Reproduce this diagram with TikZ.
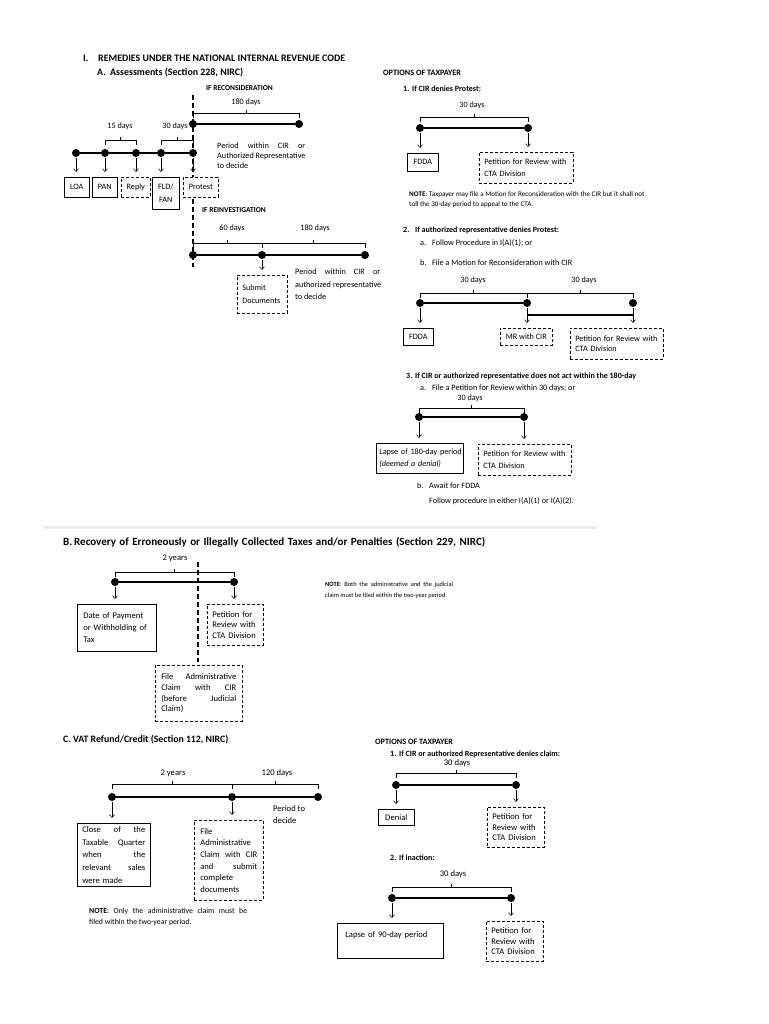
\documentclass[tikz,border=0pt]{standalone}
\usepackage{fontspec}
\setmainfont{Carlito}
\usetikzlibrary{arrows.meta}
\newcommand\ftA{\fontsize{8.2}{10.5}\selectfont}
\newcommand\ftB{\fontsize{8.6}{12.2}\selectfont}
\newcommand\ftN{\fontsize{7.1}{10.5}\selectfont}
\newcommand\ftNB{\fontsize{6.4}{10.5}\selectfont}
\newcommand\ftNC{\fontsize{7.8}{10.5}\selectfont}
\newcommand\ftH{\fontsize{9.9}{12}\selectfont\bfseries}
\newcommand\ftHB{\fontsize{11}{12}\selectfont\bfseries}
\newcommand\ftHC{\fontsize{9.8}{12}\selectfont\bfseries}
\newcommand\ftS{\fontsize{7.5}{9}\selectfont\bfseries}
\newcommand\ftT{\fontsize{8.2}{9}\selectfont\bfseries}
\newcommand\ftO{\fontsize{8}{9}\selectfont\bfseries}
\newcommand\jl[2]{\makebox[#1][s]{\spaceskip=0.25em plus 1fil\relax #2}}
\newcommand\tlbrace[3]{\draw[brk] (#1,#3+5) -- (#1,#3) -- (#2,#3) -- (#2,#3+5); \draw[brk] ({(#1+#2)/2},#3) -- ({(#1+#2)/2},#3-3);}
\tikzset{
 dot/.style={circle, fill=black, inner sep=0pt, minimum size=8pt},
 tl/.style={line width=1.8pt},
 brk/.style={line width=0.6pt},
 arr/.style={-{Straight Barb[length=3pt,width=5pt]}, line width=0.5pt, shorten <=1pt, shorten >=5pt},
 sbox/.style={draw, line width=0.6pt, fill=white, inner xsep=5pt, inner ysep=2pt, align=left, anchor=north west},
 dbox/.style={sbox, dash pattern=on 3pt off 2pt},
 vd/.style={line width=2pt, dash pattern=on 5pt off 3pt},
 lab/.style={inner sep=0pt, anchor=center},
 txt/.style={inner sep=0pt, anchor=west, align=left},
}
\begin{document}
\begin{tikzpicture}[x=1pt,y=-1pt]
\useasboundingbox (0,0) rectangle (768,1024);
\fill[white] (0,0) rectangle (768,1024);

% separator
\draw[line width=3pt, black!7] (44,527) -- (597,527);

% ===== Section A =====
\node[txt, font=\ftH] (hI) at (83,58) {\makebox[15pt][l]{I.}REMEDIES UNDER THE NATIONAL INTERNAL REVENUE CODE};
\node[txt, font=\ftH] (hA) at (97,73) {\makebox[13pt][l]{A.}Assessments (Section 228, NIRC)};

\draw[vd] (193,95) -- (193,267);
\node[txt, font=\ftS] (ifrc) at (206,88) {IF RECONSIDERATION};
\tlbrace{193}{299}{113}
\node[lab, font=\ftA] (d180a) at (246,102) {180 days};
\node[dot] (r1) at (193,124) {};
\node[dot] (r2) at (299,124) {};
\draw[tl] (r1) -- (r2);
\node[txt, anchor=north west, font=\ftA] (prd1) at (217,143) {\jl{88pt}{Period within CIR or}\\[-0.5pt]Authorized Representative\\[-0.5pt]to decide};

% main timeline
\node[dot] (a1) at (76,153) {};
\node[dot] (a2) at (105,153) {};
\node[dot] (a3) at (136,153) {};
\node[dot] (a4) at (161,153) {};
\node[dot] (a5) at (193,153) {};
\draw[tl] (a1) -- (a5);
\tlbrace{105}{136}{140}
\tlbrace{161}{193}{140}
\node[lab, font=\ftA] (d15) at (120,126) {15 days};
\node[lab, font=\ftA] (d30a) at (175,126) {30 days};

\node[sbox, inner xsep=1pt, minimum width=25pt, minimum height=20pt, align=center, font=\ftA] (loa) at (64,177) {LOA};
\node[sbox, inner xsep=1pt, minimum width=25pt, minimum height=20pt, align=center, font=\ftA] (pan) at (92,177) {PAN};
\node[dbox, inner xsep=1pt, minimum width=29pt, minimum height=20pt, align=center, font=\ftA] (reply) at (121,177) {Reply};
\node[sbox, inner xsep=1pt, minimum width=27pt, minimum height=32pt, align=center, font=\ftA] (fld) at (152,177) {FLD/\\[3pt]FAN};
\node[dbox, inner xsep=1pt, minimum width=35pt, minimum height=20pt, align=center, font=\ftA] (prot) at (183,177) {Protest};
\draw[arr] (a1) -- (a1 |- loa.north);
\draw[arr] (a2) -- (a2 |- pan.north);
\draw[arr] (a3) -- (a3 |- reply.north);
\draw[arr] (a4) -- (a4 |- fld.north);
\draw[arr] (a5) -- (a5 |- prot.north);

% reinvestigation
\node[txt, font=\ftS] (ifri) at (202,210) {IF REINVESTIGATION};
\tlbrace{193}{262}{243}
\tlbrace{262}{365}{243}
\node[lab, font=\ftA] (d60) at (232,228) {60 days};
\node[lab, font=\ftA] (d180b) at (315,228) {180 days};
\node[dot] (v1) at (193,255) {};
\node[dot] (v2) at (262,255) {};
\node[dot] (v3) at (365,255) {};
\draw[tl] (v1) -- (v3);
\node[dbox, text width=40pt, minimum height=38pt, font=\ftA] (subm) at (237,275) {Submit\\[2pt]Documents};
\draw[arr] (v2) -- (v2 |- subm.north);
\node[txt, anchor=north west, font=\ftA] (prd2) at (295,269) {\jl{85pt}{Period within CIR or}\\[2pt]\jl{85pt}{authorized representative}\\[2pt]to decide};

% ===== Options of taxpayer (A) =====
\node[txt, font=\ftT] (opt1) at (383,73) {OPTIONS OF TAXPAYER};
\node[txt, font=\ftO] (o1h) at (403,89) {\makebox[9pt][l]{1.}If CIR denies Protest:};
\tlbrace{420}{528}{117}
\node[lab, font=\ftA] (d30b) at (472,105) {30 days};
\node[dot] (o1) at (420,128) {};
\node[dot] (o2) at (528,128) {};
\draw[tl] (o1) -- (o2);
\node[sbox, inner xsep=1pt, minimum width=31pt, minimum height=18pt, align=center, font=\ftA] (fdda1) at (407,153) {FDDA};
\node[dbox, text width=84pt, minimum height=31pt, font=\ftA] (pet1) at (479,152) {Petition for Review with\\[1pt]CTA Division};
\draw[arr] (o1) -- (o1 |- fdda1.north);
\draw[arr] (o2) -- (o2 |- pet1.north);
\node[txt, anchor=north west, font=\ftN] (note1) at (409,191) {\textbf{NOTE}: Taxpayer may file a Motion for Reconsideration with the CIR but it shall not\\toll the 30-day period to appeal to the CTA.};

\node[txt, font=\ftO] (o2h) at (403,230) {\makebox[12pt][l]{2.}If authorized representative denies Protest:};
\node[txt, font=\ftA] (o2a) at (420,243) {\makebox[12pt][l]{a.}Follow Procedure in I(A)(1); or};
\node[txt, font=\ftA] (o2b) at (420,263) {\makebox[12pt][l]{b.}File a Motion for Reconsideration with CIR};
\tlbrace{420}{527}{293}
\tlbrace{527}{633}{293}
\node[lab, font=\ftA] (d30c) at (473,280) {30 days};
\node[lab, font=\ftA] (d30d) at (584,280) {30 days};
\node[dot] (p1) at (420,303) {};
\node[dot] (p2) at (527,303) {};
\node[dot] (p3) at (633,303) {};
\draw[tl] (p1) -- (p2);
\coordinate (q2) at (527,315);
\coordinate (q3) at (633,315);
\draw[tl] (q2) -- (q3);
\node[sbox, inner xsep=1pt, minimum width=30pt, minimum height=17pt, align=center, font=\ftA] (fdda2) at (403,328) {FDDA};
\node[dbox, inner xsep=1pt, minimum width=52pt, minimum height=17pt, align=center, font=\ftA] (mr) at (500,328) {MR with CIR};
\node[dbox, text width=83pt, minimum height=31pt, font=\ftA] (pet2) at (570,328) {Petition for Review with\\[0pt]CTA Division};
\draw[arr] (p1) -- (p1 |- fdda2.north);
\draw[arr] (p2) -- (p2 |- mr.north);
\draw[arr] (p3) -- (p3 |- pet2.north);

\node[txt, font=\ftO] (o3h) at (406,376) {\makebox[9pt][l]{3.}If CIR or authorized representative does not act within the 180-day};
\node[txt, font=\ftA] (o3a) at (420,388) {\makebox[12pt][l]{a.}File a Petition for Review within 30 days; or};
\tlbrace{419}{524}{408}
\node[lab, font=\ftA] (d30e) at (470,398) {30 days};
\node[dot] (t1) at (419,417) {};
\node[dot] (t2) at (524,417) {};
\draw[tl] (t1) -- (t2);
\node[sbox, inner xsep=3pt, text width=81pt, minimum height=30pt, font=\ftA] (lapse1) at (376,443) {\mbox{Lapse of 180-day period}\\[2pt]\textit{(deemed a denial)}};
\node[dbox, text width=83pt, minimum height=31pt, font=\ftA] (pet3) at (478,444) {Petition for Review with\\[1pt]CTA Division};
\draw[arr] (t1) -- (t1 |- lapse1.north);
\draw[arr] (t2) -- (t2 |- pet3.north);
\node[txt, font=\ftA] (o3b) at (417,486) {\makebox[12pt][l]{b.}Await for FDDA};
\node[txt, font=\ftA] (o3c) at (429,501) {Follow procedure in either I(A)(1) or I(A)(2).};

% ===== Section B =====
\node[txt, font=\ftHB] (hB) at (63,542) {\jl{422pt}{\makebox[11pt][l]{B.}Recovery of Erroneously or Illegally Collected Taxes and/or Penalties (Section 229, NIRC)}};
\draw[vd] (198,562) -- (198,662);
\tlbrace{115}{234}{572}
\node[lab, font=\ftB] (y2a) at (175,558) {2 years};
\node[dot] (b1) at (115,582) {};
\node[dot] (b2) at (234,582) {};
\draw[tl] (b1) -- (b2);
\node[sbox, inner xsep=6pt, text width=67pt, minimum height=47pt, font=\ftB] (dop) at (77,604) {Date of Payment\\or Withholding of\\Tax};
\node[dbox, text width=46pt, minimum height=41pt, font=\ftB] (pet4) at (207,604) {Petition for\\[-1.5pt]Review with\\[-1.5pt]CTA Division};
\draw[arr] (b1) -- (b1 |- dop.north);
\draw[arr] (b2) -- (b2 |- pet4.north);
\node[dbox, inner xsep=6pt, text width=75pt, minimum height=56pt, font=\ftB] (fac) at (155,665) {\jl{75pt}{File Administrative}\\[-1.5pt]\jl{75pt}{Claim with CIR}\\[-1.5pt]\jl{75pt}{(before Judicial}\\[-1.5pt]Claim)};
\node[txt, anchor=north west, font=\ftNB] (noteB) at (325,582) {\jl{128pt}{\textbf{NOTE}: Both the administrative and the judicial}\\claim must be filed within the two-year period.};

% ===== Section C =====
\node[txt, font=\ftHC] (hC) at (63,740) {\makebox[10pt][l]{C.}VAT Refund/Credit (Section 112, NIRC)};
\tlbrace{112}{232}{784}
\tlbrace{232}{318}{784}
\node[lab, font=\ftB] (y2b) at (173,773) {2 years};
\node[lab, font=\ftB] (d120) at (277,773) {120 days};
\node[dot] (c1) at (112,797) {};
\node[dot] (c2) at (232,797) {};
\node[dot] (c3) at (318,797) {};
\draw[tl] (c1) -- (c3);
\node[txt, anchor=north west, font=\ftB] (ptd) at (273,805) {Period to\\decide};
\node[sbox, inner xsep=5pt, inner ysep=1pt, text width=63pt, minimum height=63pt, font=\ftB] (close) at (77,823) {\jl{63pt}{Close of the}\\[0.5pt]\jl{63pt}{Taxable Quarter}\\[0.5pt]\jl{63pt}{when the}\\[0.5pt]\jl{63pt}{relevant sales}\\[0.5pt]were made};
\node[dbox, inner xsep=6pt, inner ysep=1pt, text width=57pt, minimum height=80pt, font=\ftB] (fac2) at (194,820) {File\\[-0.5pt]Administrative\\[-0.5pt]\jl{57pt}{Claim with CIR}\\[-0.5pt]\jl{57pt}{and submit}\\[-0.5pt]complete\\[-0.5pt]documents};
\draw[arr] (c1) -- (c1 |- close.north);
\draw[arr] (c2) -- (c2 |- fac2.north);
\node[txt, anchor=north west, font=\ftNC] (noteC) at (89,908) {\jl{158pt}{\textbf{NOTE}: Only the administrative claim must be}\\filed within the two-year period.};

% options C
\node[txt, font=\ftT] (opt2) at (375,742) {OPTIONS OF TAXPAYER};
\node[txt, font=\ftO] (c1h) at (390,754) {\makebox[9pt][l]{1.}If CIR or authorized Representative denies claim:};
\tlbrace{396}{516}{773}
\node[lab, font=\ftB] (d30f) at (457,763) {30 days};
\node[dot] (e1) at (396,785) {};
\node[dot] (e2) at (516,785) {};
\draw[tl] (e1) -- (e2);
\node[sbox, inner xsep=1pt, minimum width=36pt, minimum height=16pt, align=center, font=\ftB] (den) at (378,809) {Denial};
\node[dbox, text width=47pt, minimum height=40pt, font=\ftB] (pet5) at (487,807) {Petition for\\[-1.5pt]Review with\\[-1.5pt]CTA Division};
\draw[arr] (e1) -- (e1 |- den.north);
\draw[arr] (e2) -- (e2 |- pet5.north);

\node[txt, font=\ftO] (c2h) at (390,858) {\makebox[9pt][l]{2.}If inaction:};
\tlbrace{392}{511}{887}
\node[lab, font=\ftB] (d30g) at (453,874) {30 days};
\node[dot] (f1) at (392,898) {};
\node[dot] (f2) at (511,898) {};
\draw[tl] (f1) -- (f2);
\node[sbox, inner xsep=8pt, inner ysep=4pt, text width=90pt, minimum height=35pt, font=\ftB] (lapse2) at (337,923) {Lapse of 90-day period\\ \mbox{}};
\node[dbox, text width=47pt, minimum height=40pt, font=\ftB] (pet6) at (486,921) {Petition for\\[-1.5pt]Review with\\[-1.5pt]CTA Division};
\draw[arr] (f1) -- (f1 |- lapse2.north);
\draw[arr] (f2) -- (f2 |- pet6.north);
\end{tikzpicture}
\end{document}
